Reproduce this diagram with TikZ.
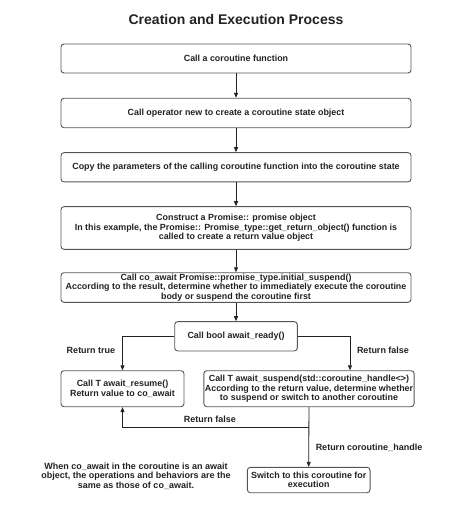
\documentclass[tikz,border=0pt]{standalone}
\usepackage{fontspec}
\setmainfont{Liberation Sans}
\usepackage{xcolor}
\usetikzlibrary{arrows.meta}

\definecolor{testo}{HTML}{222222}
\definecolor{bordo}{HTML}{555555}

\tikzset{
  fase/.style={draw=bordo, line width=0.9pt, rounded corners=3pt, text=testo, font=\fontsize{8.9}{9.6}\selectfont\bfseries, align=center, inner sep=1pt},
  freccia/.style={draw=testo, line width=0.8pt, -{Triangle[length=5pt,width=4pt]}},
  etichetta/.style={text=testo, font=\fontsize{9}{9.6}\selectfont\bfseries, align=center, inner sep=0pt}
}

\begin{document}
\begin{tikzpicture}[x=1pt, y=-1pt]
% Processo di creazione ed esecuzione di una coroutine
\useasboundingbox (0,0) rectangle (474,510);

\node[text=testo, font=\fontsize{14}{16}\selectfont\bfseries] (T) at (236,20) {Creation and Execution Process};

\node[fase, minimum width=350pt, minimum height=29pt] (F1) at (236,58.5) {Call a coroutine function};
\node[fase, minimum width=350pt, minimum height=29.5pt] (F2) at (236,113) {Call operator new to create a coroutine state object};
\node[fase, minimum width=350pt, minimum height=29.3pt] (F3) at (236,167.3) {Copy the parameters of the calling coroutine function into the coroutine state};
\node[fase, minimum width=350pt, minimum height=42.6pt] (F4) at (236,228) {Construct a Promise:: promise object\\In this example, the Promise:: Promise\_type::get\_return\_object() function is\\called to create a return value object};
\node[fase, minimum width=350pt, minimum height=29.6pt] (F5) at (236,287.5) {Call co\_await Promise::promise\_type.initial\_suspend()\\According to the result, determine whether to immediately execute the coroutine\\body or suspend the coroutine first};

\draw[freccia] (F1) -- (F2);
\draw[freccia] (F2) -- (F3);
\draw[freccia] (F3) -- (F4);
\draw[freccia] (F4) -- (F5);

\node[fase, minimum width=122.6pt, minimum height=29.3pt] (F6) at (236,336.3) {Call bool await\_ready()};
\draw[freccia] (F5) -- (F6);

\node[fase, minimum width=123pt, minimum height=36pt] (F7) at (122.5,388.7) {Call T await\_resume()\\Return value to co\_await};
\node[fase, minimum width=204pt, minimum height=36pt] (F8) at (309,388.7) {Call T await\_suspend(std::coroutine\_handle<>)\\According to the return value, determine whether\\to suspend or switch to another coroutine};
\node[fase, minimum width=122.7pt, minimum height=25.4pt] (F9) at (308.7,480) {Switch to this coroutine for\\execution};

\draw[freccia] (F6.west) -| (F7.north);
\node[etichetta] (E1) at (91,350.3) {Return true};

\coordinate (R8) at ([xshift=41pt]F8.north);
\draw[freccia] (F6.east) -| (R8);
\node[etichetta] (E2) at (383,350) {Return false};

\draw[freccia] (F8) -- (F9);
\node[etichetta] (E3) at (369,447.7) {Return coroutine\_handle};

\coordinate (J) at (309,427.7);
\draw[freccia] (J) -| (F7.south);
\node[etichetta] (E4) at (210,419) {Return false};

\node[etichetta] (N) at (136,476) {When co\_await in the coroutine is an await\\object, the operations and behaviors are the\\same as those of co\_await.};

\end{tikzpicture}
\end{document}
